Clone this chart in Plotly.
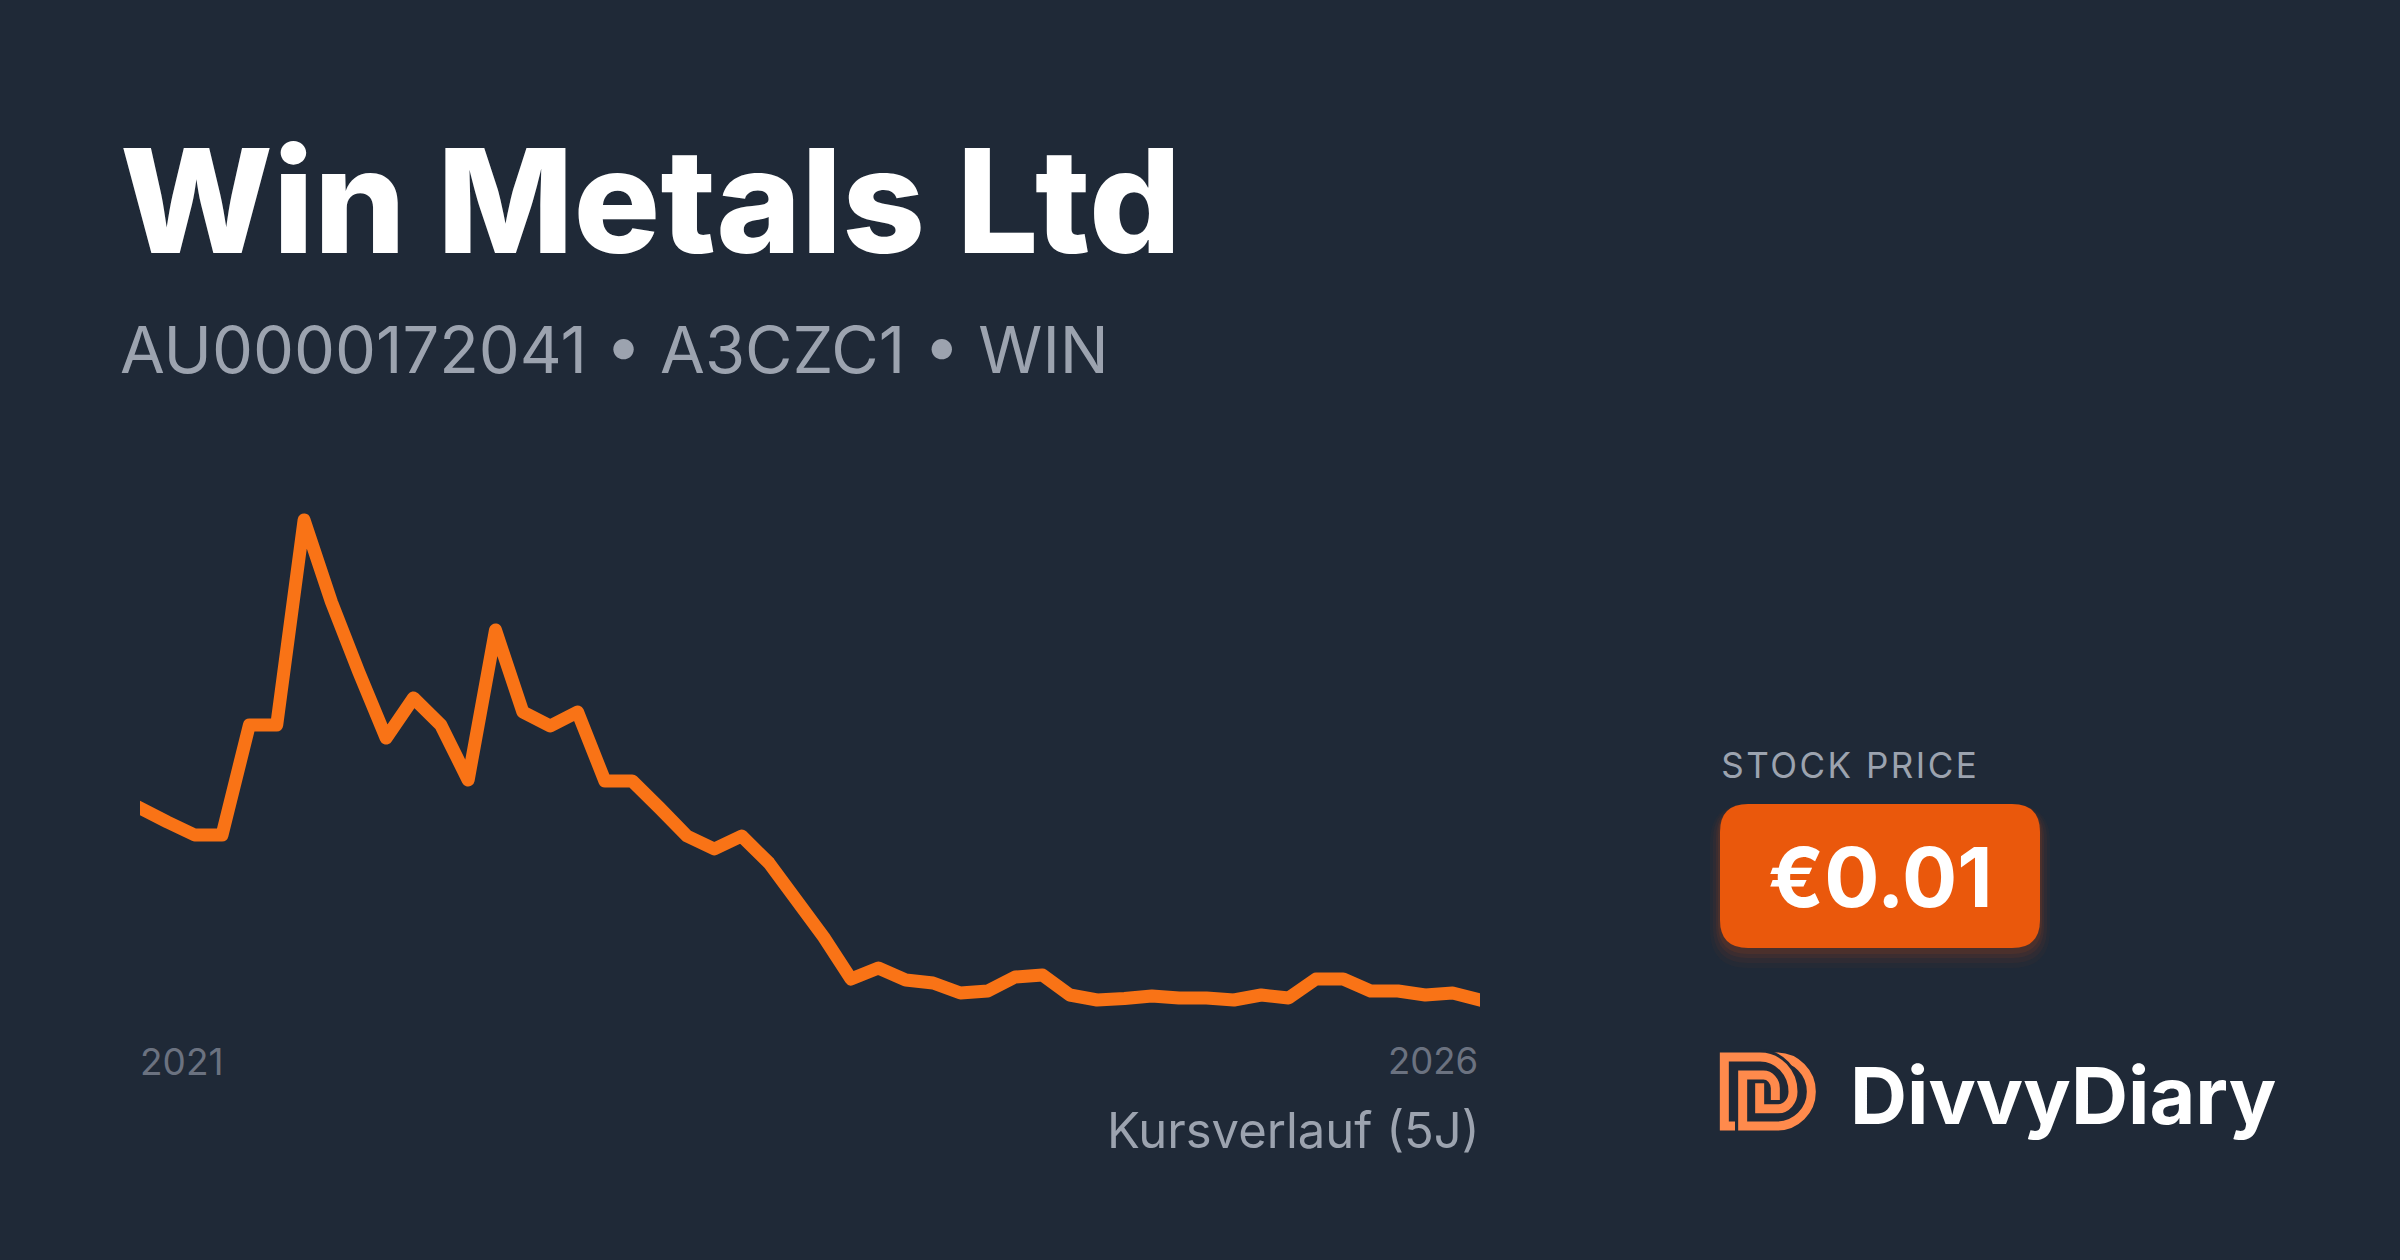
import pandas as pd
import plotly.graph_objects as go

# Five-year share price history in euro
price_eur = [
    0.0868, 0.0812, 0.076, 0.076, 0.12, 0.12, 0.202, 0.1692, 0.1412, 0.1148,
    0.1308, 0.12, 0.098, 0.158, 0.1252, 0.1196, 0.1252, 0.0976, 0.0976, 0.0868,
    0.0756, 0.0704, 0.0756, 0.0648, 0.05, 0.0352, 0.0184, 0.0228, 0.018, 0.0168,
    0.0128, 0.0136, 0.0192, 0.02, 0.012, 0.01, 0.0106, 0.0116, 0.0108, 0.0108,
    0.01, 0.012, 0.0108, 0.0184, 0.0184, 0.0136, 0.0136, 0.012, 0.0128, 0.01,
]
dates = pd.date_range("2021-01-15", "2026-01-15", periods=len(price_eur))
year_labels = ["2021", "2026"]

TITLE = "Win Metals Ltd"
SUBTITLE = "AU0000172041 • A3CZC1 • WIN"
CAPTION = "Kursverlauf (5J)"
PRICE_HEADER = "STOCK PRICE"
PRICE_TEXT = "€0.01"
BRAND = "DivvyDiary"

BG = "#1F2937"
LINE = "#F97316"
BADGE = "#EA580C"
LOGO = "#FF8A4C"
MUTED = "#9CA3AF"
DIM = "#6B7280"
W, H = 2400, 1260
FONT = "Inter"


def rounded_rect(x0, y0, x1, y1, r):
    return (
        f"M{x0 + r},{y0} L{x1 - r},{y0} Q{x1},{y0} {x1},{y0 + r} "
        f"L{x1},{y1 - r} Q{x1},{y1} {x1 - r},{y1} "
        f"L{x0 + r},{y1} Q{x0},{y1} {x0},{y1 - r} "
        f"L{x0},{y0 + r} Q{x0},{y0} {x0 + r},{y0} Z"
    )


def logo_path(cmds):
    # Logo outline is authored on a 3:1 grid anchored at (1700, 1040)
    out = []
    for op, *pts in cmds:
        coords = " ".join(f"{1700 + px / 3:.2f},{1040 + py / 3:.2f}" for px, py in pts)
        out.append(f"{op}{coords}")
    return " ".join(out)


K = 0.5523
# The shoulder of the inner band, also used to cut a dark gap into the outer band
shoulder = [
    ("M", (180, 51)),
    ("C", (180 + 99 * K, 51), (279, 155 - 104 * K), (279, 155)),
]
band_inner = [
    ("M", (105, 258)), ("L", (73, 258)), ("L", (73, 51)), ("L", (180, 51)),
    ("C", (180 + 99 * K, 51), (279, 155 - 104 * K), (279, 155)),
    ("C", (279, 155 + 51 * K), (235 + 44 * K, 206), (235, 206)),
    ("L", (179, 206)), ("L", (179, 130)),
]
band_outer = [
    ("M", (222, 51)), ("L", (230, 51)),
    ("C", (230 + 104 * K, 51), (334, 155 - 104 * K), (334, 155)),
    ("C", (334, 155 + 103 * K), (230 + 104 * K, 258), (230, 258)),
    ("L", (128, 258)), ("L", (128, 105)), ("L", (190, 105)),
    ("C", (190 + 36 * K, 105), (226, 145 - 40 * K), (226, 145)),
    ("L", (226, 180)),
]

shapes = []
# Soft orange glow under the price badge
for grow, drop, alpha in [(10, 10, 0.03), (7, 8, 0.05), (4, 6, 0.07), (2, 4, 0.09)]:
    shapes.append(dict(
        type="path", xref="x2", yref="y2", layer="below", line_width=0,
        fillcolor=f"rgba(234,88,12,{alpha})",
        path=rounded_rect(1720 - grow, 804 - grow + drop, 2040 + grow, 948 + grow + drop, 28 + grow),
    ))
shapes.append(dict(type="path", xref="x2", yref="y2", line_width=0, fillcolor=BADGE,
                   path=rounded_rect(1720, 804, 2040, 948, 28)))
for band, colour, stroke in [(band_outer, LOGO, 9), (shoulder, BG, 15), (band_inner, LOGO, 9)]:
    shapes.append(dict(type="path", xref="x2", yref="y2", path=logo_path(band),
                       line=dict(color=colour, width=stroke), fillcolor="rgba(0,0,0,0)"))


def label(text, x, y, size, color, anchor="left", weight=400):
    return dict(text=text, x=x, y=y, xref="x2", yref="y2", xanchor=anchor, yanchor="middle",
                showarrow=False, font=dict(family=FONT, size=size, color=color, weight=weight))


annotations = [
    label(TITLE, 118, 200, 144.5, "#FFFFFF", weight=800),
    label(SUBTITLE, 118, 349, 65, MUTED),
    label(year_labels[0], 138, 1061, 37, DIM),
    label(year_labels[1], 1480, 1061, 36.5, DIM, anchor="right"),
    label(CAPTION, 1482, 1130, 49, MUTED, anchor="right"),
    label(PRICE_HEADER, 1732.5, 765, 35, MUTED),
    label(PRICE_TEXT, 1880, 877, 82, "#FFFFFF", anchor="center", weight=700),
    label(BRAND, 1848, 1095, 79, "#FFFFFF", weight=700),
]

fig = go.Figure(go.Scatter(
    x=dates, y=price_eur, mode="lines", hoverinfo="skip",
    line=dict(color=LINE, width=13, shape="linear", simplify=False),
))
fig.update_layout(
    width=W, height=H, autosize=False, showlegend=False,
    margin=dict(l=0, r=0, t=0, b=0),
    paper_bgcolor=BG, plot_bgcolor="rgba(0,0,0,0)",
    xaxis=dict(domain=[140 / W, 1480 / W], range=[dates[0], dates[-1]], visible=False, fixedrange=True),
    yaxis=dict(domain=[1 - 1020 / H, 1 - 500 / H], range=[0.002, 0.21], visible=False, fixedrange=True),
    # Full-page helper axes in pixel units for the header, badge and logo
    xaxis2=dict(domain=[0, 1], range=[0, W], anchor="y2", visible=False, fixedrange=True),
    yaxis2=dict(domain=[0, 1], range=[H, 0], anchor="x2", visible=False, fixedrange=True),
    shapes=shapes, annotations=annotations,
)
# Tracked-out capitals for the small price header; round joins on the price line
STYLE_JS = """
document.querySelectorAll('.annotation-text').forEach(function (t) {
  if (t.textContent === 'STOCK PRICE') { t.style.letterSpacing = '2.5px'; }
});
document.querySelectorAll('.scatterlayer .js-line').forEach(function (p) {
  p.style.strokeLinejoin = 'round';
  p.style.strokeLinecap = 'square';
});
"""
fig.write_html("out.html", config=dict(displayModeBar=False), post_script=STYLE_JS)
